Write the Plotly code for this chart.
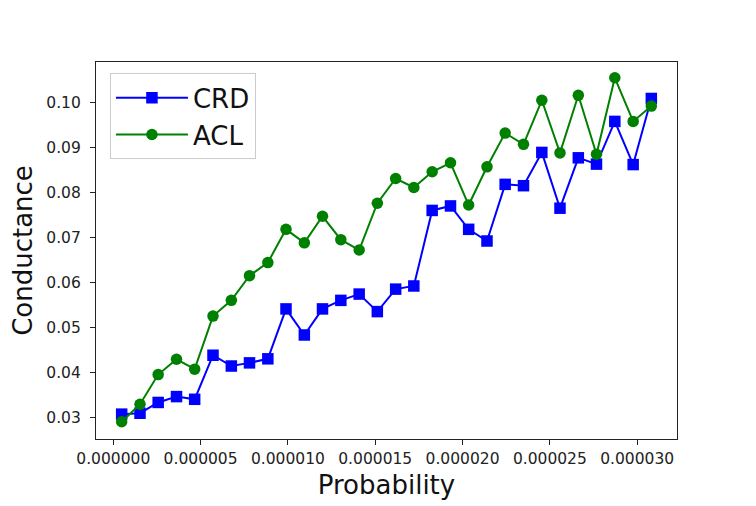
import plotly.graph_objects as go

probability = [0.48e-6, 1.53e-6, 2.57e-6, 3.62e-6, 4.66e-6, 5.71e-6, 6.76e-6, 7.80e-6,
               8.85e-6, 9.89e-6, 10.94e-6, 11.98e-6, 13.03e-6, 14.08e-6, 15.12e-6,
               16.17e-6, 17.21e-6, 18.26e-6, 19.31e-6, 20.35e-6, 21.40e-6, 22.44e-6,
               23.49e-6, 24.54e-6, 25.58e-6, 26.63e-6, 27.67e-6, 28.72e-6, 29.77e-6, 30.81e-6]

crd = [0.0308, 0.0310, 0.0334, 0.0347, 0.0341, 0.0439, 0.0415, 0.0422, 0.0431, 0.0542,
       0.0484, 0.0542, 0.0561, 0.0575, 0.0536, 0.0586, 0.0593, 0.0761, 0.0771, 0.0719,
       0.0693, 0.0819, 0.0816, 0.0890, 0.0766, 0.0878, 0.0864, 0.0959, 0.0863, 0.1010]

acl = [0.0291, 0.0330, 0.0396, 0.0430, 0.0408, 0.0526, 0.0561, 0.0616, 0.0645, 0.0719,
       0.0689, 0.0748, 0.0696, 0.0673, 0.0777, 0.0832, 0.0812, 0.0847, 0.0867, 0.0773,
       0.0858, 0.0933, 0.0908, 0.1006, 0.0889, 0.1017, 0.0886, 0.1056, 0.0959, 0.0993]

x_ticks = [0, 5e-6, 10e-6, 15e-6, 20e-6, 25e-6, 30e-6]
x_tick_labels = ["0.000000", "0.000005", "0.000010", "0.000015", "0.000020", "0.000025", "0.000030"]
y_ticks = [0.03, 0.04, 0.05, 0.06, 0.07, 0.08, 0.09, 0.10]
y_tick_labels = ["0.03", "0.04", "0.05", "0.06", "0.07", "0.08", "0.09", "0.10"]

FONT = "DejaVu Sans"

fig = go.Figure()
fig.add_trace(go.Scatter(x=probability, y=crd, name="CRD", mode="lines+markers",
                         line=dict(color="#0000ff", width=2),
                         marker=dict(symbol="square", size=11.5, color="#0000ff")))
fig.add_trace(go.Scatter(x=probability, y=acl, name="ACL", mode="lines+markers",
                         line=dict(color="#008000", width=2),
                         marker=dict(symbol="circle", size=11.5, color="#008000")))

axis_common = dict(showgrid=False, zeroline=False, showline=True, linecolor="#222222",
                   linewidth=1.2, mirror=True, ticks="outside", ticklen=5, tickwidth=1,
                   tickcolor="#222222", tickfont=dict(family=FONT, size=15.5, color="#222222"))

fig.update_layout(
    width=756, height=506,
    margin=dict(l=88, r=87, t=54, b=75, autoexpand=False),
    paper_bgcolor="white", plot_bgcolor="white",
    showlegend=True,
    legend=dict(x=0.024, y=0.97, xanchor="left", yanchor="top",
                font=dict(family=FONT, size=26, color="#111111"),
                bgcolor="white", bordercolor="#cccccc", borderwidth=1,
                itemwidth=72),
    xaxis=dict(range=[-0.99e-6, 32.28e-6], tickvals=x_ticks, ticktext=x_tick_labels,
               title=dict(text="Probability", font=dict(family=FONT, size=26, color="#111111"),
                          standoff=9),
               **axis_common),
    yaxis=dict(range=[0.02527, 0.10911], tickvals=y_ticks, ticktext=y_tick_labels,
               ticklabelstandoff=6,
               title=dict(text="Conductance", font=dict(family=FONT, size=26, color="#111111"),
                          standoff=11),
               **axis_common),
)

fig.write_html("out.html")
